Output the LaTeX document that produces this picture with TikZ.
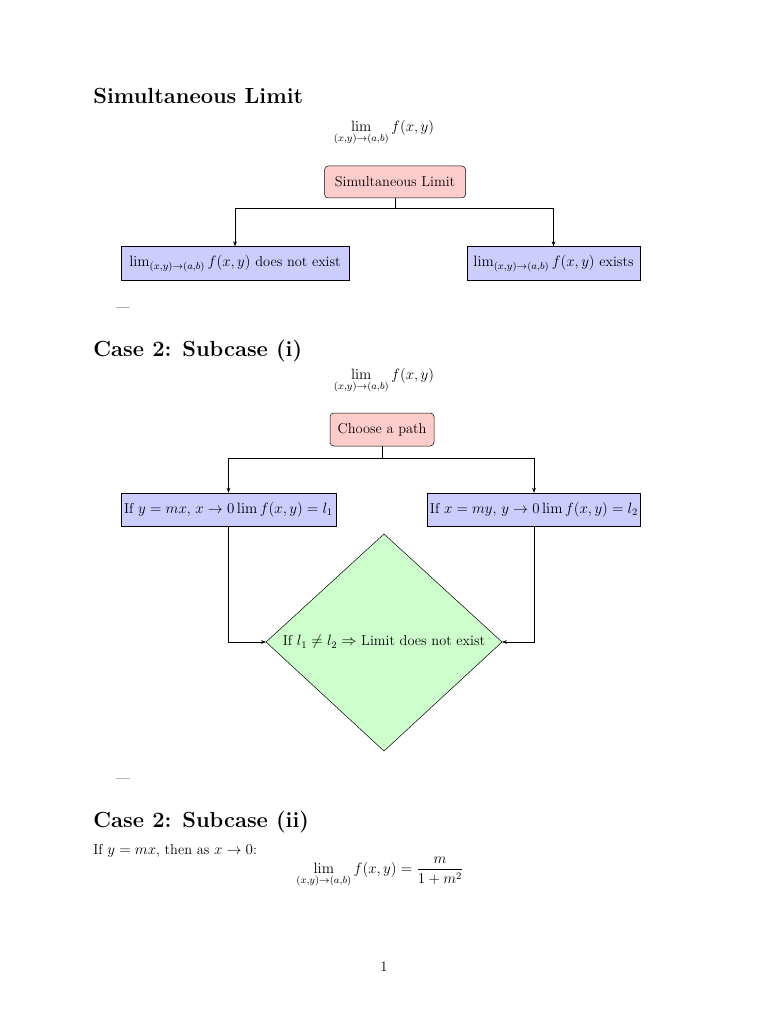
\documentclass[tikz,border=0pt]{standalone}
\usepackage{amsmath}
\usetikzlibrary{arrows.meta}
\begin{document}
\begin{tikzpicture}[x=0.8pt,y=-0.8pt,
  every node/.style={font=\fontsize{11.5}{14}\selectfont},
  pinkbox/.style={draw,rounded corners=3pt,fill=red!20,minimum height=32*0.8pt,inner xsep=4pt},
  bluebox/.style={draw,fill=blue!20,minimum height=34*0.8pt,inner xsep=2pt},
  conn/.style={-{Stealth[length=4pt,width=3pt]}},
  ttl/.style={anchor=west,font=\fontsize{17.5}{20}\selectfont\bfseries}]
\useasboundingbox (0,0) rectangle (768,1024);
\node[ttl] (t1) at (89,96) {Simultaneous Limit};
\node (f1) at (384,133) {$\displaystyle\lim_{(x,y)\to(a,b)} f(x,y)$};
\node[pinkbox,minimum width=141*0.8pt] (p1) at (395,182) {Simultaneous Limit};
\node[bluebox,minimum width=228*0.8pt] (l1) at (235,263.5) {$\lim_{(x,y)\to(a,b)} f(x,y)$ does not exist};
\node[bluebox,minimum width=173*0.8pt] (r1) at (553.5,263.5) {$\lim_{(x,y)\to(a,b)} f(x,y)$ exists};
\coordinate (j1) at (395,208);
\draw (p1.south) -- (j1);
\draw[conn] (j1) -| (l1.north);
\draw[conn] (j1) -| (r1.north);
\node (d1) at (123,310) {---};
\node[ttl] (t2) at (89,351) {Case 2: Subcase (i)};
\node (f2) at (384,381) {$\displaystyle\lim_{(x,y)\to(a,b)} f(x,y)$};
\node[pinkbox,minimum width=104*0.8pt,minimum height=33*0.8pt] (p2) at (382,429.5) {Choose a path};
\node[bluebox,minimum width=215*0.8pt,minimum height=33*0.8pt] (l2) at (228.5,509.5) {If $y=mx$, $x\to0 \lim f(x,y)=l_1$};
\node[bluebox,minimum width=212*0.8pt,minimum height=33*0.8pt] (r2) at (534,509.5) {If $x=my$, $y\to0 \lim f(x,y)=l_2$};
\coordinate (j2) at (382,458);
\draw (p2.south) -- (j2);
\draw[conn] (j2) -| (l2.north);
\draw[conn] (j2) -| (r2.north);
\draw[fill=green!20] (384,534) coordinate (dt) -- (502,642) coordinate (dr) -- (384,751) -- (266,642) coordinate (dl) -- cycle;
\node (dia) at (384,642) {If $l_1\neq l_2 \Rightarrow$ Limit does not exist};
\draw[conn] (l2.south) |- (dl);
\draw[conn] (r2.south) |- (dr);
\node (d2) at (123,781) {---};
\node[ttl] (t3) at (89,822) {Case 2: Subcase (ii)};
\node[anchor=west] (s3) at (89,851) {If $y=mx$, then as $x\to0$:};
\node (f3) at (380,872) {$\displaystyle\lim_{(x,y)\to(a,b)} f(x,y)=\frac{m}{1+m^2}$};
\node (pg) at (384,967) {1};
\end{tikzpicture}
\end{document}
